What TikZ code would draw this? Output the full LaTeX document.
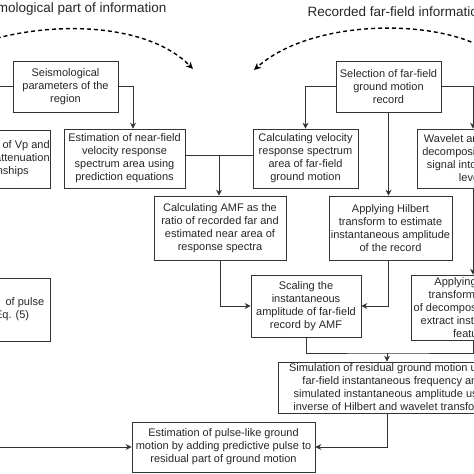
\documentclass[tikz,border=0pt]{standalone}
\usepackage{fontspec}
\setmainfont{Liberation Sans}
\usetikzlibrary{arrows.meta}

\begin{document}
\begin{tikzpicture}[x=1pt,y=-1pt,
    box/.style={draw=black!80,line width=0.7pt,align=center,inner xsep=2pt,inner ysep=0pt,
        font=\fontsize{11}{13}\selectfont,text=black!85},
    link/.style={draw=black!80,line width=0.8pt},
    arr/.style={link,-{Stealth[length=6pt,width=6pt,inset=2pt]}},
    hint/.style={line width=1.4pt,dash pattern=on 4pt off 3pt,
        -{Stealth[length=7pt,width=6.5pt,inset=2pt]}},
    head/.style={font=\fontsize{13.5}{16}\selectfont,text=black!85}]
    \useasboundingbox (0,0) rectangle (474,474);
    \clip (0,0) rectangle (474,474);
    % headings and the two dashed hints
    \node[head,anchor=base east] (seishead) at (170,12.5) {Seismological part of information};
    \node[head,anchor=base west] (farhead) at (304,16) {Recorded far-field information};
    \coordinate (lstart) at (-10,40);
    \coordinate (ltip) at (193,69);
    \coordinate (rstart) at (484,48);
    \coordinate (rtip) at (254,70);
    \draw[hint] (lstart) .. controls (60,20) and (150,25) .. (ltip);
    \draw[hint] (rstart) .. controls (430,18) and (310,20) .. (rtip);
    % boxes
    \node[box,minimum width=105,minimum height=51] (seis) at (65.5,86.5)
        {Seismological\\parameters of the\\region};
    \node[box,minimum width=105,minimum height=51] (sel) at (388.5,86.5)
        {Selection of far-field\\ground motion\\record};
    \node[box,align=right,inner xsep=0.5pt,minimum height=58,anchor=east] (vp) at (50.5,159)
        {of Vp and\\attenuation\\relationships\hspace*{21pt}};
    \node[box,minimum width=121,minimum height=59] (near) at (124.5,158.5)
        {Estimation of near-field\\velocity response\\spectrum area using\\prediction equations};
    \node[box,minimum width=105,minimum height=59] (calcv) at (305.5,158.5)
        {Calculating velocity\\response spectrum\\area of far-field\\ground motion};
    \node[box,minimum width=112,minimum height=59] (wave) at (473,158.5)
        {Wavelet analysis for\\decomposition of the\\signal into different\\levels};
    \node[box,minimum width=132,minimum height=64] (amf) at (220,228)
        {Calculating AMF as the\\ratio of recorded far and\\estimated near area of\\response spectra};
    \node[box,minimum width=121,minimum height=64] (hilb) at (390.5,228)
        {Applying Hilbert\\transform to estimate\\instantaneous amplitude\\of the record};
    \node[box,align=right,inner xsep=6pt,minimum height=63,anchor=east] (pulse) at (50.5,309.5)
        {of pulse\\Eq. (5)\hspace*{15pt}};
    \node[box,minimum width=110,minimum height=62] (scale) at (306,306)
        {Scaling the\\instantaneous\\amplitude of far-field\\record by AMF};
    \node[box,minimum width=120,minimum height=65] (levels) at (473,307.5)
        {Applying Hilbert\\transform on each\\of decomposed levels to\\extract instantaneous\\features};
    \node[box,minimum width=230,minimum height=51] (sim) at (393,387.5)
        {Simulation of residual ground motion using\\far-field instantaneous frequency and\\simulated instantaneous amplitude using\\inverse of Hilbert and wavelet transforms};
    \node[box,minimum width=183,minimum height=50] (final) at (223.5,447)
        {Estimation of pulse-like ground\\motion by adding predictive pulse to\\residual part of ground motion};
    % connectors
    \coordinate (seisleft) at (-10,86.5);
    \coordinate (finalin) at (-10,447);
    \coordinate (split) at (219,155);
    \coordinate (merge) at (387,353);
    \draw[link] (seis.west) -- (seisleft);
    \draw[arr] (seis.east) -| ([xshift=8.5pt]near.north);
    \draw[arr] (sel.west) -| (calcv.north);
    \draw[arr] (sel.east) -| (wave.north);
    \draw[arr] (sel.south) -- (sel.south |- hilb.north);
    \draw[link] ([yshift=3.5pt]near.east) -- ([yshift=3.5pt]calcv.west);
    \draw[arr] (split) -- (split |- amf.north);
    \draw[arr] (amf.south) |- (scale.west);
    \draw[arr] (hilb.south -| sel.south) |- (scale.east);
    \draw[arr] (wave.south) -- (levels.north);
    \draw[link] (scale.south) |- (merge) -| (levels.south);
    \draw[arr] (merge) -- (merge |- sim.north);
    \draw[arr] (merge |- sim.south) |- (final.east);
    \draw[arr] (finalin) -- (final.west);
\end{tikzpicture}
\end{document}
